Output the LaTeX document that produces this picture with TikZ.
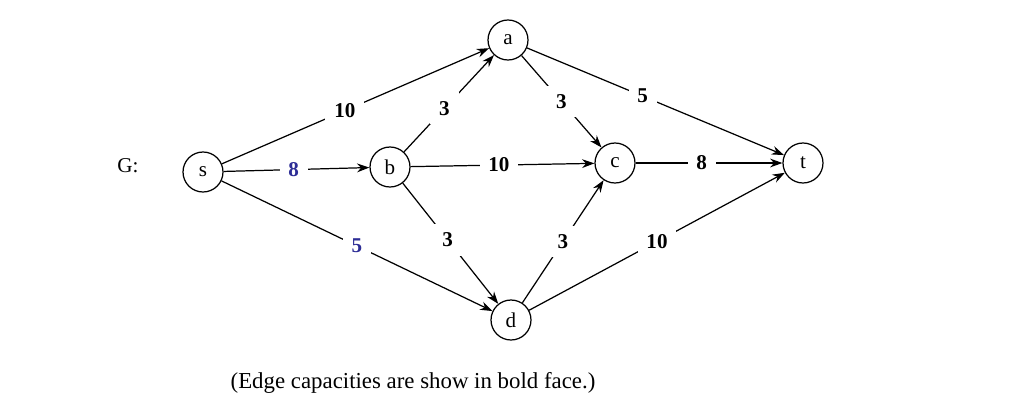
\documentclass[tikz,border=0pt]{standalone}
\usepackage{fontspec}
\setmainfont{Liberation Serif}
\usetikzlibrary{arrows.meta}
\definecolor{lblue}{RGB}{45,45,150}
\begin{document}
\begin{tikzpicture}[x=0.02cm,y=-0.02cm,
  v/.style={circle,draw,line width=0.7pt,minimum size=0.8cm,inner sep=0pt,font=\fontsize{12}{14}\selectfont},
  e/.style={line width=0.7pt,-{Stealth[length=7pt,width=5pt]}},
  w/.style={fill=white,font=\bfseries\fontsize{12}{14}\selectfont,inner sep=5pt},
  bl/.style={w,text=lblue}]
\useasboundingbox (0,0) rectangle (1024,409);
\node[v] (s) at (203,172) {s};
\node[v] (b) at (390,167) {b};
\node[v] (a) at (508,40) {a};
\node[v] (c) at (615,163) {c};
\node[v] (t) at (803,163) {t};
\node[v] (d) at (511,320) {d};
\node[font=\fontsize{12}{14}\selectfont] (g) at (128,166) {G:};
\node[font=\fontsize{13}{15}\selectfont] (cap) at (413,383) {(Edge capacities are show in bold face.)};
\draw[e] (s) -- node[w,pos=0.46]{10} (a);
\draw[e] (s) -- node[bl,pos=0.48]{8} (b);
\draw[e] (s) -- node[bl,pos=0.5]{5} (d);
\draw[e] (b) -- node[w,pos=0.45]{3} (a);
\draw[e] (b) -- node[w,pos=0.48]{10} (c);
\draw[e] (b) -- node[w,pos=0.47]{3} (d);
\draw[e] (a) -- node[w,pos=0.5]{3} (c);
\draw[e] (a) -- node[w,pos=0.45]{5} (t);
\draw[e] (c) -- node[w,pos=0.45]{8} (t);
\draw[e] (d) -- node[w,pos=0.5]{3} (c);
\draw[e] (d) -- node[w,pos=0.5]{10} (t);
\end{tikzpicture}
\end{document}
